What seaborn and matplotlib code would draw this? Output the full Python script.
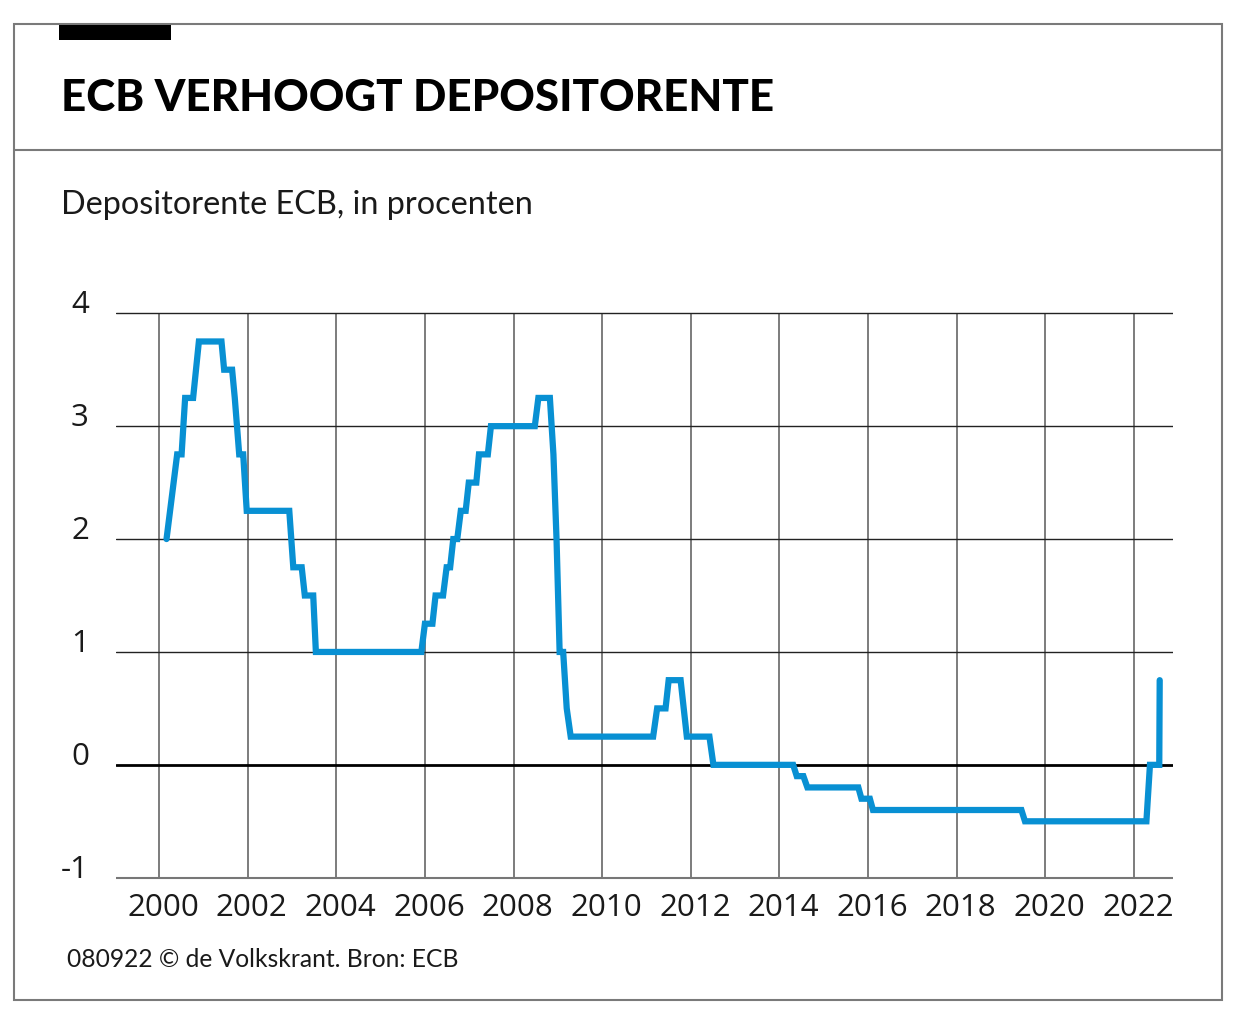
import matplotlib
matplotlib.use("Agg")
import matplotlib.pyplot as plt
from matplotlib.patches import Rectangle
from matplotlib.lines import Line2D
from matplotlib.transforms import ScaledTranslation
import pandas as pd
import seaborn as sns

# ECB deposit rate (decimal year, percent)
years = [2000.17, 2000.41, 2000.51, 2000.59, 2000.77, 2000.90, 2001.41, 2001.47, 2001.65, 2001.71,
         2001.81, 2001.90, 2001.98, 2002.94, 2003.03, 2003.22, 2003.29, 2003.48, 2003.54, 2005.92,
         2006.00, 2006.17, 2006.24, 2006.41, 2006.49, 2006.57, 2006.64, 2006.73, 2006.81, 2006.92,
         2006.99, 2007.16, 2007.22, 2007.42, 2007.49, 2008.48, 2008.56, 2008.82, 2008.90, 2008.97,
         2009.04, 2009.12, 2009.20, 2009.29, 2011.15, 2011.24, 2011.43, 2011.50, 2011.77, 2011.91,
         2012.42, 2012.51, 2014.31, 2014.39, 2014.54, 2014.63, 2015.78, 2015.85, 2016.04, 2016.11,
         2019.46, 2019.54, 2022.28, 2022.36, 2022.57, 2022.58]
rates = [2.0, 2.75, 2.75, 3.25, 3.25, 3.75, 3.75, 3.5, 3.5, 3.25,
         2.75, 2.75, 2.25, 2.25, 1.75, 1.75, 1.5, 1.5, 1.0, 1.0,
         1.25, 1.25, 1.5, 1.5, 1.75, 1.75, 2.0, 2.0, 2.25, 2.25,
         2.5, 2.5, 2.75, 2.75, 3.0, 3.0, 3.25, 3.25, 2.75, 2.0,
         1.0, 1.0, 0.5, 0.25, 0.25, 0.5, 0.5, 0.75, 0.75, 0.25,
         0.25, 0.0, 0.0, -0.1, -0.1, -0.2, -0.2, -0.3, -0.3, -0.4,
         -0.4, -0.5, -0.5, 0.0, 0.0, 0.75]

x_ticks = list(range(2000, 2023, 2))
y_ticks = [-1, 0, 1, 2, 3, 4]

title = "ECB VERHOOGT DEPOSITORENTE"
subtitle = "Depositorente ECB, in procenten"
footer = "080922 \u00a9 de Volkskrant. Bron: ECB"

df = pd.DataFrame({"jaar": years, "rente": rates})

sns.set_theme(style="white")
plt.rcParams["font.family"] = ["Open Sans", "DejaVu Sans"]
narrow = ["Lato", "DejaVu Sans"]

W, H = 1240, 1022
fig = plt.figure(figsize=(W / 100, H / 100), dpi=100)


def fx(px):
    return px / W


def fy(py):
    return 1 - py / H


# frame, header rule and the small black tab
fig.add_artist(Rectangle((fx(14), fy(1000)), (1222 - 14) / W, (1000 - 24) / H,
                         fill=False, edgecolor="#7a7a7a", lw=1.5, transform=fig.transFigure))
fig.add_artist(Line2D([fx(14), fx(1222)], [fy(150), fy(150)], color="#7a7a7a", lw=1.5,
                      transform=fig.transFigure))
fig.add_artist(Rectangle((fx(59), fy(40)), 112 / W, 15 / H, facecolor="black",
                         edgecolor="none", transform=fig.transFigure))

fig.text(fx(61), fy(111), title, family=narrow, weight="black", fontsize=31.6,
         va="baseline", ha="left", color="black")
fig.text(fx(61), fy(214), subtitle, family=narrow, fontsize=23.3,
         va="baseline", ha="left", color="#1a1a1a")
fig.text(fx(67), fy(967), footer, family=narrow, fontsize=17.7,
         va="baseline", ha="left", color="#1a1a1a")

ax = fig.add_axes([fx(116), fy(880), (1173 - 116) / W, (880 - 311) / H])
ax.set_xlim(1999.03, 2022.88)
ax.set_ylim(-1.02, 4.02)

# grid
ax.vlines(x_ticks, -1, 4, color="#666666", lw=1.2, zorder=1)
for v in y_ticks:
    if v == 0:
        ax.axhline(v, color="black", lw=2, zorder=2)
    elif v == -1:
        ax.axhline(v, color="#777777", lw=1.5, zorder=2)
    else:
        ax.axhline(v, color="#222222", lw=1, zorder=2)

sns.lineplot(data=df, x="jaar", y="rente", ax=ax, estimator=None, sort=False,
             color="#0890d3", lw=4.5, zorder=3,
             solid_capstyle="round", solid_joinstyle="miter")

for s in ax.spines.values():
    s.set_visible(False)
ax.set_xlabel("")
ax.set_ylabel("")
ax.set_xticks(x_ticks)
ax.set_xticklabels([str(x) for x in x_ticks])
ax.set_yticks(y_ticks)
ax.set_yticklabels([str(y) for y in y_ticks])
ax.tick_params(axis="both", length=0, labelsize=22.5, colors="#1a1a1a")
ax.tick_params(axis="x", pad=9)
ax.tick_params(axis="y", pad=19.5)
for lab in ax.get_yticklabels():
    lab.set_verticalalignment("baseline")
shift = ScaledTranslation(4 / 100, 0, fig.dpi_scale_trans)
for lab in ax.get_xticklabels():
    lab.set_transform(lab.get_transform() + shift)

fig.savefig("out.png", dpi=100)
